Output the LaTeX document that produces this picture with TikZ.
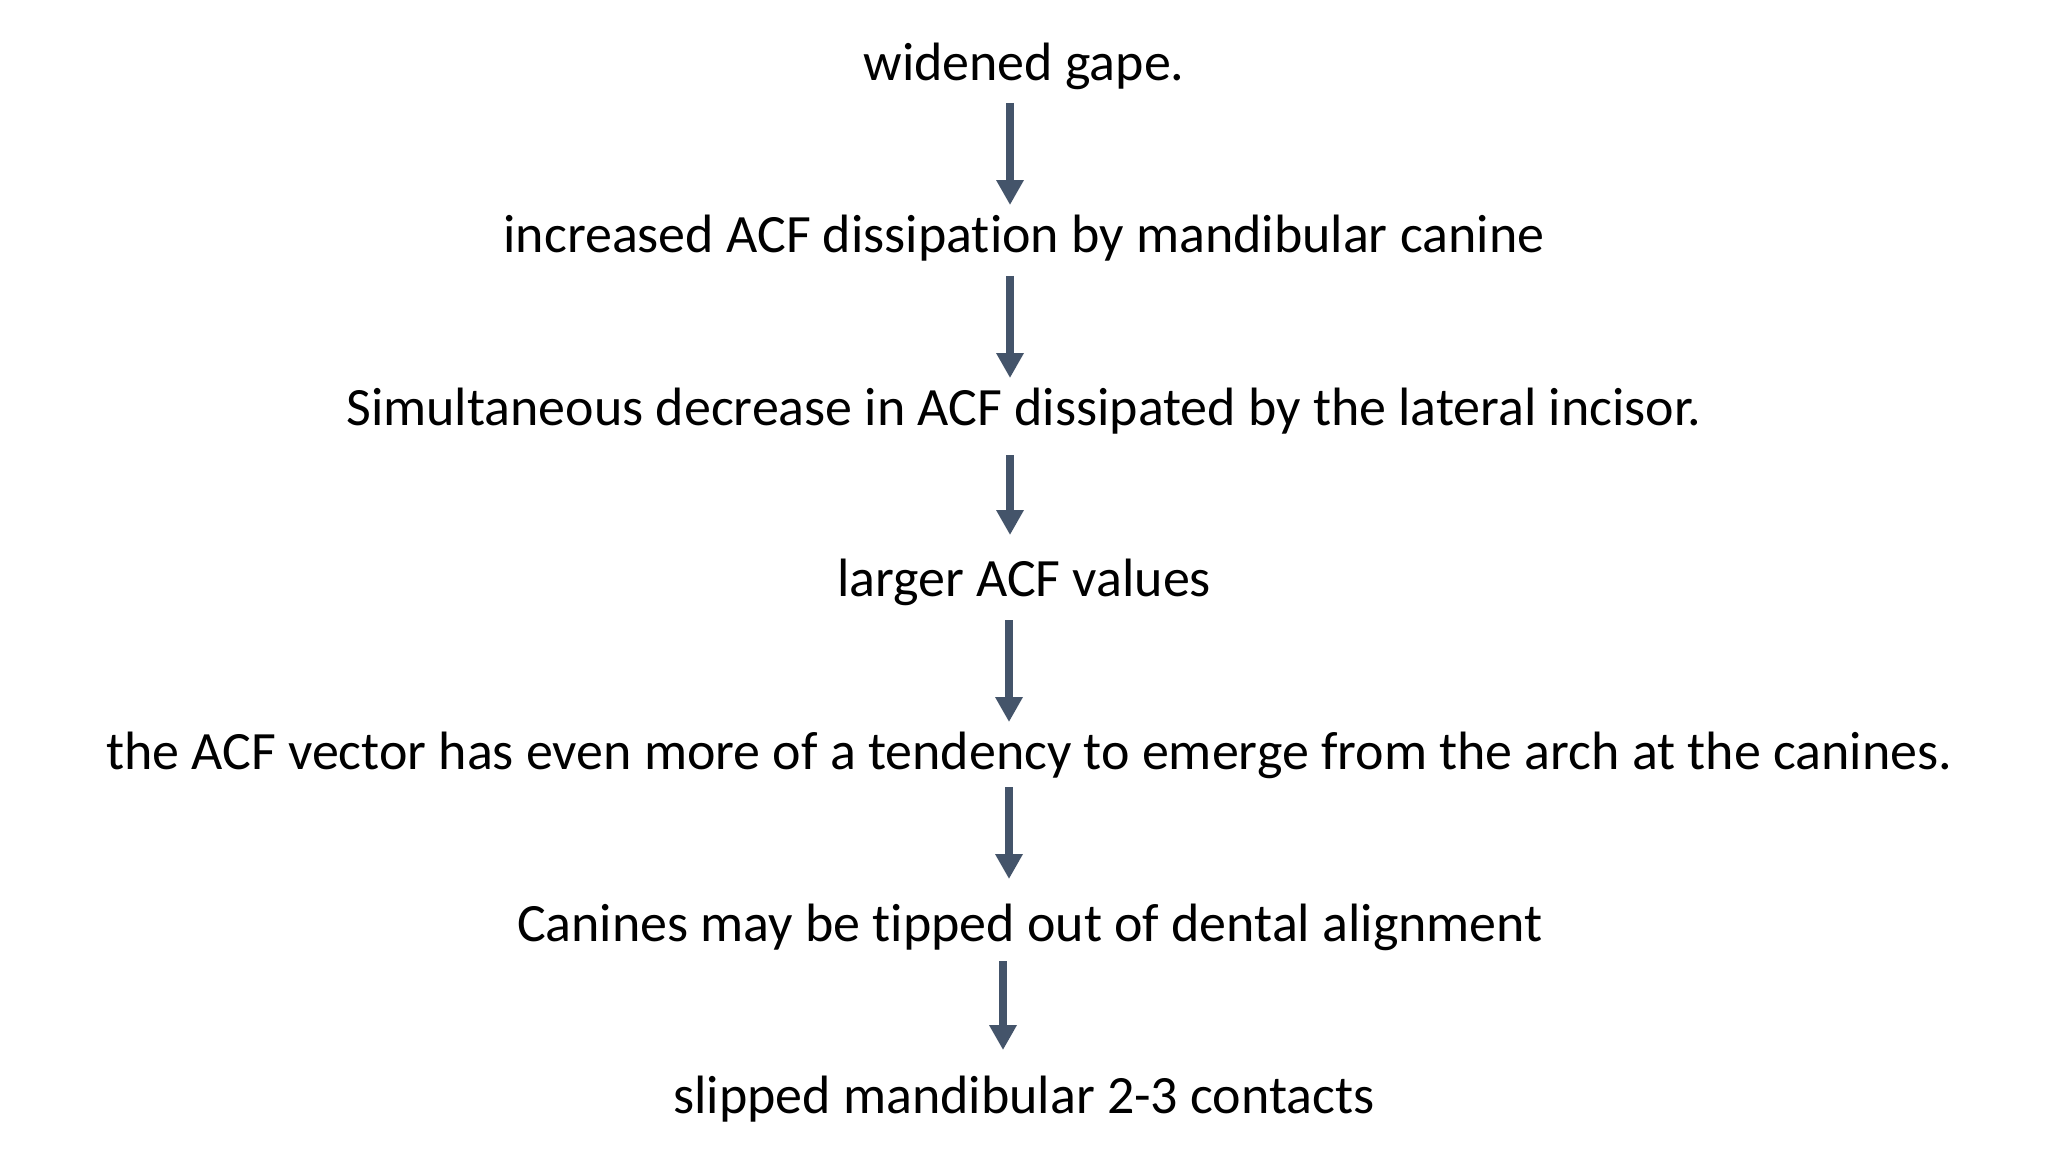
\documentclass[tikz,border=0pt]{standalone}
\usepackage{fontspec}
\setmainfont{Carlito}[Ligatures=NoCommon]
\usetikzlibrary{arrows.meta}
\definecolor{arrowcol}{HTML}{44546A}
\begin{document}
\begin{tikzpicture}[x=0.46875pt,y=-0.46875pt,
  lbl/.style={anchor=base,inner sep=0pt,font=\fontsize{25.3}{30}\selectfont,text=black},
  arr/.style={draw=arrowcol,line width=3.9pt,-{Triangle[width=12.2pt,length=11.7pt]},shorten >=0pt}]
\useasboundingbox[fill=white] (0,0) rectangle (2048,1152);
\node[lbl] (t1) at (1024,81) {widened gape.};
\node[lbl] (t2) at (1024,253) {increased ACF dissipation by mandibular canine};
\node[lbl] (t3) at (1024,425) {Simultaneous decrease in ACF dissipated by the lateral incisor.};
\node[lbl] (t4) at (1024,596) {larger ACF values};
\node[lbl] (t5) at (1029,769) {the ACF vector has even more of a tendency to emerge from the arch at the canines.};
\node[lbl] (t6) at (1030,941) {Canines may be tipped out of dental alignment};
\node[lbl] (t7) at (1024,1113) {slipped mandibular 2-3 contacts};
\coordinate (s1) at (1010,103); \coordinate (e1) at (1010,205);
\coordinate (s2) at (1010,276); \coordinate (e2) at (1010,378);
\coordinate (s3) at (1010,455); \coordinate (e3) at (1010,535);
\coordinate (s4) at (1009,620); \coordinate (e4) at (1009,722);
\coordinate (s5) at (1009,787); \coordinate (e5) at (1009,879);
\coordinate (s6) at (1003,961); \coordinate (e6) at (1003,1050);
\draw[arr] (s1) -- (e1);
\draw[arr] (s2) -- (e2);
\draw[arr] (s3) -- (e3);
\draw[arr] (s4) -- (e4);
\draw[arr] (s5) -- (e5);
\draw[arr] (s6) -- (e6);
\end{tikzpicture}
\end{document}
